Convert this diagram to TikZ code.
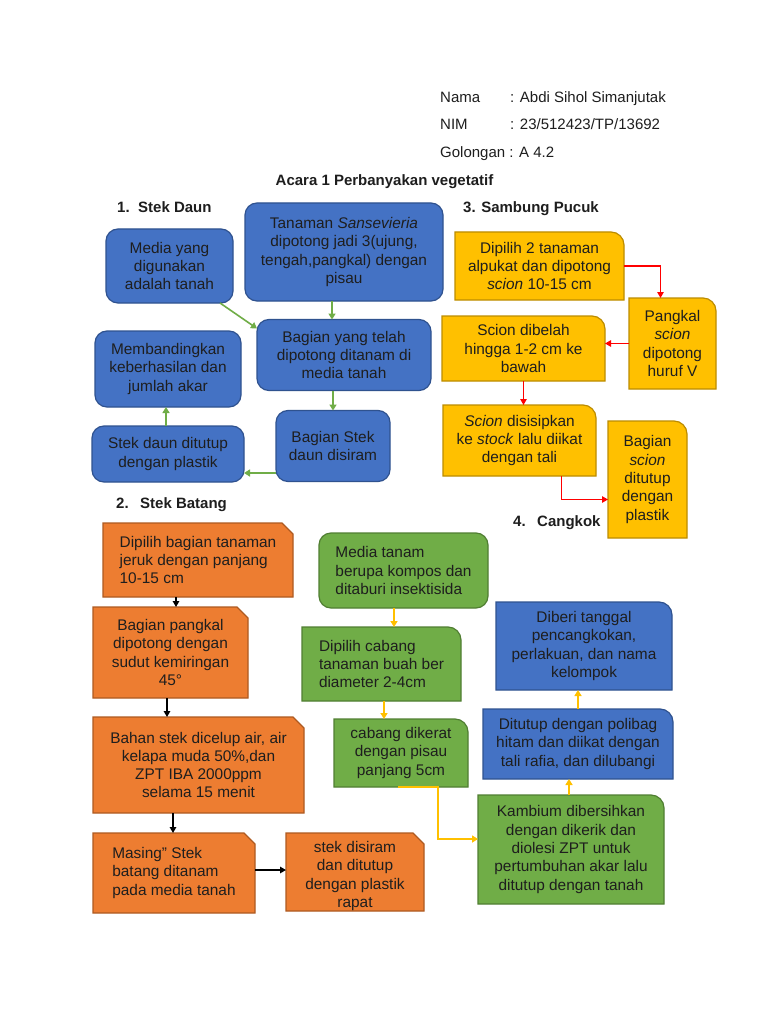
\documentclass[tikz,border=0pt]{standalone}
\usepackage{fontspec}
\setmainfont{Liberation Sans}
\usetikzlibrary{arrows.meta,backgrounds,calc}
\definecolor{blueF}{HTML}{4472C4}
\definecolor{blueD}{HTML}{2F528F}
\definecolor{orangeF}{HTML}{ED7D31}
\definecolor{orangeD}{HTML}{AE5A21}
\definecolor{yellowF}{HTML}{FFC000}
\definecolor{yellowD}{HTML}{BC8C00}
\definecolor{greenF}{HTML}{70AD47}
\definecolor{greenD}{HTML}{507E32}
\definecolor{arrG}{HTML}{70AD47}
\definecolor{arrR}{HTML}{FF0000}
\definecolor{arrY}{HTML}{FFC000}
\definecolor{txt}{HTML}{1E1E1E}
\newcommand\shpR[2]{\draw[#2,rounded corners=12pt] (#1.south west) rectangle (#1.north east);}
\newcommand\shpT[2]{\draw[#2] (#1.south west) -- (#1.north west) -- ([xshift=-13pt]#1.north east) .. controls ([xshift=-5.8pt]#1.north east) and ([yshift=-5.8pt]#1.north east) .. ([yshift=-13pt]#1.north east) -- (#1.south east) -- cycle;}
\newcommand\shpC[2]{\draw[#2] (#1.south west) -- (#1.north west) -- ([xshift=-11pt]#1.north east) -- ([yshift=-11pt]#1.north east) -- (#1.south east) -- cycle;}
\begin{document}
\begin{tikzpicture}[x=1pt,y=-1pt,
  bx/.style={inner sep=0pt, outer sep=0pt, align=center, text=txt, font=\fontsize{15.4}{18.3}\selectfont},
  bxl/.style={bx, align=left},
  lbl/.style={anchor=west, inner sep=0pt, text=txt, font=\fontsize{15}{18}\selectfont, text height=11pt, text depth=3pt},
  hd/.style={lbl, font=\bfseries\fontsize{15}{18}\selectfont},
  fB/.style={fill=blueF, draw=blueD, line width=1.2pt},
  fO/.style={fill=orangeF, draw=orangeD, line width=1.2pt},
  fY/.style={fill=yellowF, draw=yellowD, line width=1.2pt},
  fG/.style={fill=greenF, draw=greenD, line width=1.2pt},
  ag/.style={draw=arrG, line width=1.6pt, -{Triangle[length=6pt,width=7pt]}},
  ar/.style={draw=arrR, line width=1.1pt, -{Triangle[length=6pt,width=6.5pt]}},
  ak/.style={draw=black, line width=1.4pt, -{Triangle[length=6pt,width=6.5pt]}},
  ay/.style={draw=arrY, line width=1.6pt, -{Triangle[length=6pt,width=7pt]}}
]
\useasboundingbox (0,0) rectangle (768,1024);

% header
\node[lbl] (nama) at (440,99) {Nama};
\node[lbl] (namav) at (510,99) {: Abdi Sihol Simanjutak};
\node[lbl] (nim) at (440,126) {NIM};
\node[lbl] (nimv) at (510,126) {: 23/512423/TP/13692};
\node[lbl] (gol) at (440,154) {Golongan : A 4.2};
\node[hd, anchor=center] (title) at (384.5,182) {Acara 1 Perbanyakan vegetatif};

% section labels
\node[hd] (h1) at (117,209) {\makebox[21pt][l]{1.}Stek Daun};
\node[hd] (h2) at (116,504) {\makebox[24pt][l]{2.}Stek Batang};
\node[hd] (h3) at (463,209) {3. Sambung Pucuk};
\node[hd] (h4) at (513,522) {\makebox[24pt][l]{4.}Cangkok};

% Stek Daun
\node[bx, minimum width=127pt, minimum height=74pt] (sd1) at (169.5,266) {Media yang\\digunakan\\adalah tanah};
\node[bx, minimum width=198pt, minimum height=98pt] (sd2) at (344,252) {Tanaman \textit{Sansevieria}\\dipotong jadi 3(ujung,\\tengah,pangkal) dengan\\pisau};
\node[bx, minimum width=174pt, minimum height=71pt] (sd3) at (344,355) {Bagian yang telah\\dipotong ditanam di\\media tanah};
\node[bx, minimum width=146pt, minimum height=76pt] (sd4) at (168,369) {Membandingkan\\keberhasilan dan\\jumlah akar};
\node[bx, minimum width=152pt, minimum height=56pt] (sd5) at (168,454) {Stek daun ditutup\\dengan plastik};
\node[bx, minimum width=114pt, minimum height=71pt] (sd6) at (333,446) {Bagian Stek\\daun disiram};

% Sambung Pucuk
\node[bx, minimum width=169pt, minimum height=68pt] (sp1) at (539.5,266) {Dipilih 2 tanaman\\alpukat dan dipotong\\\textit{scion} 10-15 cm};
\node[bx, minimum width=87pt, minimum height=91pt] (sp2) at (672.5,343.5) {Pangkal\\\textit{scion}\\dipotong\\huruf V};
\node[bx, minimum width=163pt, minimum height=65pt] (sp3) at (523.5,348.5) {Scion dibelah\\hingga 1-2 cm ke\\bawah};
\node[bx, minimum width=153pt, minimum height=71pt] (sp4) at (519.5,440.5) {\textit{Scion} disisipkan\\ke \textit{stock} lalu diikat\\dengan tali};
\node[bx, minimum width=79pt, minimum height=117pt] (sp5) at (647.5,479.5) {Bagian\\\textit{scion}\\ditutup\\dengan\\plastik};

% Stek Batang
\node[bxl, minimum width=190pt, minimum height=74pt] (sb1) at (198,560) {Dipilih bagian tanaman\\jeruk dengan panjang\\10-15 cm};
\node[bx, minimum width=155pt, minimum height=91pt] (sb2) at (170.5,652.5) {Bagian pangkal\\dipotong dengan\\sudut kemiringan\\45°};
\node[bx, minimum width=211pt, minimum height=96pt] (sb3) at (198.5,765) {Bahan stek dicelup air, air\\kelapa muda 50\%,dan\\ZPT IBA 2000ppm\\selama 15 menit};
\node[bxl, minimum width=162pt, minimum height=80pt] (sb4) at (174,873) {Masing” Stek\\batang ditanam\\pada media tanah};
\node[bx, minimum width=138pt, minimum height=78pt] (sb5) at (355,872) {\rule{0pt}{19pt}stek disiram\\dan ditutup\\dengan plastik\\rapat};

% Cangkok
\node[bxl, minimum width=169pt, minimum height=75pt] (ck1) at (403.5,570.5) {Media tanam\\berupa kompos dan\\ditaburi insektisida};
\node[bxl, minimum width=159pt, minimum height=74pt] (ck2) at (381.5,664) {Dipilih cabang\\tanaman buah ber\\diameter 2-4cm};
\node[bx, minimum width=134pt, minimum height=68pt] (ck3) at (401,753) {cabang dikerat\\dengan pisau\\panjang 5cm};
\node[bx, minimum width=186pt, minimum height=109pt] (ck4) at (571,849.5) {Kambium dibersihkan\\dengan dikerik dan\\diolesi ZPT untuk\\pertumbuhan akar lalu\\ditutup dengan tanah};
\node[bx, minimum width=190pt, minimum height=70pt] (ck5) at (578,744) {Ditutup dengan polibag\\hitam dan diikat dengan\\tali rafia, dan dilubangi};
\node[bx, minimum width=176pt, minimum height=88pt] (ck6) at (584,646) {Diberi tanggal\\pencangkokan,\\perlakuan, dan nama\\kelompok};

\begin{scope}[on background layer]
\fill[white] (0,0) rectangle (768,1024);
\shpR{sd1}{fB} \shpR{sd2}{fB} \shpR{sd3}{fB} \shpR{sd4}{fB} \shpR{sd5}{fB} \shpR{sd6}{fB}
\shpT{sp1}{fY} \shpT{sp2}{fY} \shpT{sp3}{fY} \shpT{sp4}{fY} \shpT{sp5}{fY}
\shpC{sb1}{fO} \shpC{sb2}{fO} \shpC{sb3}{fO} \shpC{sb4}{fO} \shpC{sb5}{fO}
\shpR{ck1}{fG} \shpT{ck2}{fG} \shpT{ck3}{fG} \shpT{ck4}{fG}
\shpT{ck5}{fB} \shpT{ck6}{fB}
\end{scope}

% Stek Daun arrows
\draw[ag] ([xshift=-13pt]sd1.south east) -- ([yshift=-9pt]sd3.north west);
\draw[ag] ([xshift=-12pt]sd2.south) -- ([xshift=-12pt]sd3.north);
\draw[ag] (sd3.south -| sd6.north) -- (sd6.north);
\coordinate (sdA) at ([yshift=-27pt]sd6.west);
\draw[ag] (sdA) -- (sdA -| sd5.east);
\coordinate (sdB) at ([xshift=-2pt]sd5.north);
\draw[ag] (sdB) -- (sdB |- sd4.south);

% Sambung Pucuk arrows
\draw[ar] (sp1.east) -| ([xshift=-12pt]sp2.north);
\draw[ar] (sp2.west) -- (sp2.west -| sp3.east);
\draw[ar] (sp3.south) -- (sp3.south |- sp4.north);
\coordinate (spA) at ([xshift=42pt]sp4.south);
\coordinate (spB) at ([yshift=-20pt]sp5.west);
\draw[ar] (spA) |- (spB);

% Stek Batang arrows
\coordinate (sbA) at ([xshift=-22pt]sb1.south);
\draw[ak] (sbA) -- (sbA |- sb2.north);
\coordinate (sbB) at ([xshift=-3.5pt]sb2.south);
\draw[ak] (sbB) -- (sbB |- sb3.north);
\coordinate (sbC) at ([xshift=-25.5pt]sb3.south);
\draw[ak] (sbC) -- (sbC |- sb4.north);
\coordinate (sbD) at ([yshift=3pt]sb4.east);
\draw[ak] (sbD) -- (sbD -| sb5.west);

% Cangkok arrows
\coordinate (ckA) at ([xshift=-9.5pt]ck1.south);
\draw[ay] (ckA) -- (ckA |- ck2.north);
\coordinate (ckB) at ([xshift=2.5pt]ck2.south);
\draw[ay] (ckB) -- (ckB |- ck3.north);
\coordinate (ckC0) at ([xshift=-3pt]ck3.south);
\coordinate (ckC) at ([xshift=37pt]ck3.south);
\coordinate (ckD) at ([yshift=10.5pt]ck4.west);
\draw[ay] (ckC0) -- (ckC) |- (ckD);
\coordinate (ckE) at ([xshift=-2pt]ck4.north);
\draw[ay] (ckE) -- (ckE |- ck5.south);
\draw[ay] (ck5.north) -- (ck5.north |- ck6.south);
\end{tikzpicture}
\end{document}
